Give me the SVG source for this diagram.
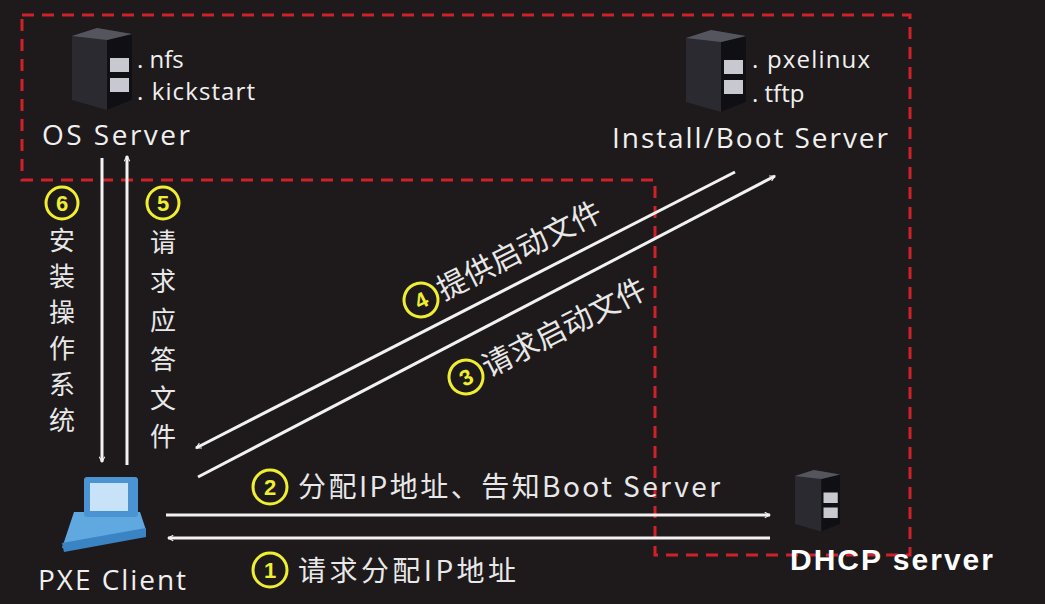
<svg xmlns="http://www.w3.org/2000/svg" width="1045" height="604" viewBox="0 0 1045 604">
<defs>
<style>
.t{font-family:"Open Sans","Noto Sans CJK SC",sans-serif;fill:#f0f0f0}
.c{font-family:"Noto Sans CJK SC",sans-serif;fill:#e8e8e8}
.n{fill:none;stroke:#f0ee30;stroke-width:3}
.nt{font-family:"Liberation Sans",sans-serif;font-weight:bold;fill:#f0ee30;font-size:22px;text-anchor:middle}
.ln{stroke:#f2f2f2;stroke-width:3;fill:none;marker-end:url(#a)}
</style>
<marker id="a" viewBox="0 0 20 20" refX="17" refY="10" markerWidth="7" markerHeight="7" orient="auto" markerUnits="userSpaceOnUse">
<path d="M2 2 L17 10 L2 18" fill="none" stroke="#f2f2f2" stroke-width="3"/>
</marker>
<g id="srv">
<path d="M0 8 L25 0 L60 6 L60 72 L35 82 L0 72 Z" fill="#2a2a30"/>
<path d="M35 12 L60 6 L60 72 L35 82 Z" fill="#101014"/>
<path d="M0 8 L25 0 L60 6 L35 12 Z" fill="#55555e"/>
<rect x="38" y="30" width="19" height="14" fill="#c8c8d0"/>
<rect x="38" y="50" width="19" height="14" fill="#c8c8d0"/>
</g>
</defs>
<rect width="1045" height="604" fill="#1e1a1b"/>
<path d="M22 15 H910 V555 H655 V180 H22 Z" fill="none" stroke="#d0202a" stroke-width="3" stroke-dasharray="12 8"/>
<g id="os-server"><use href="#srv" x="72" y="28"/><text class="t" x="137" y="68" font-size="24">. nfs</text><text class="t" x="137" y="100" font-size="24" textLength="118">. kickstart</text><text class="t" x="42" y="145" font-size="28" textLength="148">OS Server</text></g>
<g id="boot-server"><use href="#srv" x="686" y="30"/><text class="t" x="752" y="68" font-size="24" textLength="118">. pxelinux</text><text class="t" x="752" y="102" font-size="24">. tftp</text><text class="t" x="612" y="148" font-size="28" textLength="276">Install/Boot Server</text></g>
<g id="dhcp-server"><use href="#srv" x="0" y="0" transform="translate(795 470) scale(0.75)"/><text x="790" y="570" font-size="30" font-weight="bold" fill="#ffffff" font-family="Liberation Sans,sans-serif" textLength="203">DHCP server</text></g>
<g id="pxe-client">
<path d="M74 512 L140 512 L146 530 L62 548 Z" fill="#5fa8e0"/>
<path d="M62 543 L146 528 L146 537 L64 552 Z" fill="#3b84c4"/>
<rect x="84" y="477" width="54" height="40" rx="3" fill="#4a94d4"/>
<rect x="90" y="483" width="38" height="28" fill="#c8e2f8"/>
<text class="t" x="38" y="590" font-size="28" textLength="148">PXE Client</text></g>
<g id="connectors">
<line class="ln" x1="102" y1="158" x2="102" y2="462"/>
<line class="ln" x1="127" y1="465" x2="127" y2="156"/>
<line class="ln" x1="735" y1="172" x2="196" y2="448"/>
<line class="ln" x1="198" y1="477" x2="775" y2="176"/>
<line class="ln" x1="166" y1="515" x2="770" y2="515"/>
<line class="ln" x1="770" y1="538" x2="168" y2="538"/>
</g>
<g id="labels">
<circle class="n" cx="62" cy="203" r="16"/><text class="nt" x="62" y="211">6</text>
<g class="c" font-size="26"><text x="49" y="250">安</text><text x="49" y="286">装</text><text x="49" y="322">操</text><text x="49" y="358">作</text><text x="49" y="394">系</text><text x="49" y="430">统</text></g>
<circle class="n" cx="163" cy="203" r="16"/><text class="nt" x="163" y="211">5</text>
<g class="c" font-size="26"><text x="150" y="252">请</text><text x="150" y="291">求</text><text x="150" y="330">应</text><text x="150" y="369">答</text><text x="150" y="408">文</text><text x="150" y="446">件</text></g>
<g transform="translate(421 300) rotate(-27)"><circle class="n" cx="0" cy="0" r="17"/><text class="nt" x="0" y="8">4</text><text class="c" font-size="30" x="20" y="11">提供启动文件</text></g>
<g transform="translate(466 377) rotate(-27)"><circle class="n" cx="0" cy="0" r="17"/><text class="nt" x="0" y="8">3</text><text class="c" font-size="30" x="20" y="11">请求启动文件</text></g>
<circle class="n" cx="270" cy="487" r="17"/><text class="nt" x="270" y="495">2</text>
<text class="c" font-size="28" x="298" y="497" textLength="422">分配IP地址、告知Boot Server</text>
<circle class="n" cx="270" cy="570" r="17"/><text class="nt" x="270" y="578">1</text>
<text class="c" font-size="28" x="298" y="581" textLength="218">请求分配IP地址</text>
</g>
</svg>
